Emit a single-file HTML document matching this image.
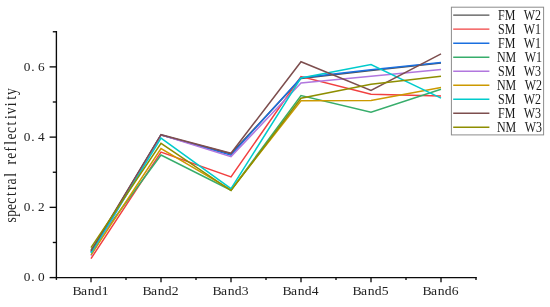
<!DOCTYPE html>
<html lang="en"><head><meta charset="utf-8"><title>spectral reflectivity</title>
<style>html,body{margin:0;padding:0;background:#fff;}body{width:550px;height:307px;overflow:hidden;}svg{display:block;}</style></head><body>
<svg width="550" height="307" viewBox="0 0 550 307">
<rect width="550" height="307" fill="#fff"/>
<g fill="none" stroke-width="1.5" stroke-linejoin="miter" stroke-linecap="butt">
<polyline stroke="#515151" points="91.0,251.6 161.0,135.0 231.0,153.8 301.0,78.4 371.0,70.5 441.0,63.1"/>
<polyline stroke="#F14040" points="91.0,258.6 161.0,152.1 231.0,176.9 301.0,76.5 371.0,94.2 441.0,96.1"/>
<polyline stroke="#1A6FDF" points="91.0,252.4 161.0,134.9 231.0,155.1 301.0,77.8 371.0,69.8 441.0,62.4"/>
<polyline stroke="#37AD6B" points="91.0,250.0 161.0,155.0 231.0,190.2 301.0,95.6 371.0,112.2 441.0,89.3"/>
<polyline stroke="#B177DE" points="91.0,255.6 161.0,134.8 231.0,156.6 301.0,83.0 371.0,76.2 441.0,69.4"/>
<polyline stroke="#CC9900" points="91.0,254.9 161.0,148.5 231.0,189.8 301.0,100.7 371.0,100.5 441.0,87.6"/>
<polyline stroke="#00CBCC" points="91.0,253.0 161.0,138.2 231.0,188.6 301.0,77.9 371.0,64.5 441.0,98.1"/>
<polyline stroke="#7D4E4E" points="91.0,250.8 161.0,134.7 231.0,153.3 301.0,61.7 371.0,90.4 441.0,53.8"/>
<polyline stroke="#8E8E00" points="91.0,247.6 161.0,143.3 231.0,190.6 301.0,98.3 371.0,84.3 441.0,76.3"/>
</g>
<g stroke="#0a0a0a" stroke-width="1.35" fill="none" stroke-linecap="butt">
<path d="M56.4 31.0 V277.6 H476.8"/>
<path d="M56.4 277.60 H49.6"/>
<path d="M56.4 242.48 H52.8"/>
<path d="M56.4 207.36 H49.6"/>
<path d="M56.4 172.24 H52.8"/>
<path d="M56.4 137.12 H49.6"/>
<path d="M56.4 102.00 H52.8"/>
<path d="M56.4 66.88 H49.6"/>
<path d="M56.4 31.76 H52.8"/>
<path d="M56.4 277.60 V279.9"/>
<path d="M91.0 277.60 V282.2"/>
<path d="M126.0 277.60 V279.9"/>
<path d="M161.0 277.60 V282.2"/>
<path d="M196.0 277.60 V279.9"/>
<path d="M231.0 277.60 V282.2"/>
<path d="M266.0 277.60 V279.9"/>
<path d="M301.0 277.60 V282.2"/>
<path d="M336.0 277.60 V279.9"/>
<path d="M371.0 277.60 V282.2"/>
<path d="M406.0 277.60 V279.9"/>
<path d="M441.0 277.60 V282.2"/>
<path d="M476.0 277.60 V279.9"/>
</g>
<text transform="translate(34.20 281.40) scale(1.120 1.000)" x="-6.43 -1.25 6.43" y="0" text-anchor="middle" font-size="11.90" fill="#222" font-family="Liberation Serif, serif" xml:space="preserve">0.0</text>
<text transform="translate(34.20 211.16) scale(1.120 1.000)" x="-6.43 -1.25 6.43" y="0" text-anchor="middle" font-size="11.90" fill="#222" font-family="Liberation Serif, serif" xml:space="preserve">0.2</text>
<text transform="translate(34.20 140.92) scale(1.120 1.000)" x="-6.43 -1.25 6.43" y="0" text-anchor="middle" font-size="11.90" fill="#222" font-family="Liberation Serif, serif" xml:space="preserve">0.4</text>
<text transform="translate(34.20 70.68) scale(1.120 1.000)" x="-6.43 -1.25 6.43" y="0" text-anchor="middle" font-size="11.90" fill="#222" font-family="Liberation Serif, serif" xml:space="preserve">0.6</text>
<text transform="translate(91.10 294.90) scale(1.120 1.000)" x="-12.59 -6.29 0.00 6.29 12.59" y="0" text-anchor="middle" font-size="12.20" fill="#222" font-family="Liberation Serif, serif" xml:space="preserve">Band1</text>
<text transform="translate(161.10 294.90) scale(1.120 1.000)" x="-12.59 -6.29 0.00 6.29 12.59" y="0" text-anchor="middle" font-size="12.20" fill="#222" font-family="Liberation Serif, serif" xml:space="preserve">Band2</text>
<text transform="translate(231.10 294.90) scale(1.120 1.000)" x="-12.59 -6.29 0.00 6.29 12.59" y="0" text-anchor="middle" font-size="12.20" fill="#222" font-family="Liberation Serif, serif" xml:space="preserve">Band3</text>
<text transform="translate(301.10 294.90) scale(1.120 1.000)" x="-12.59 -6.29 0.00 6.29 12.59" y="0" text-anchor="middle" font-size="12.20" fill="#222" font-family="Liberation Serif, serif" xml:space="preserve">Band4</text>
<text transform="translate(371.10 294.90) scale(1.120 1.000)" x="-12.59 -6.29 0.00 6.29 12.59" y="0" text-anchor="middle" font-size="12.20" fill="#222" font-family="Liberation Serif, serif" xml:space="preserve">Band5</text>
<text transform="translate(441.10 294.90) scale(1.120 1.000)" x="-12.59 -6.29 0.00 6.29 12.59" y="0" text-anchor="middle" font-size="12.20" fill="#222" font-family="Liberation Serif, serif" xml:space="preserve">Band6</text>
<text transform="translate(16.30 155.70) rotate(-90) scale(1.000 1.220)" x="-64.20 -57.78 -51.36 -44.94 -38.52 -32.10 -25.68 -19.26 -12.84 -6.42 0.00 6.42 12.84 19.26 25.68 32.10 38.52 44.94 51.36 57.78 64.20" y="0" text-anchor="middle" font-size="13.60" fill="#222" font-family="Liberation Serif, serif" xml:space="preserve">spectral reflectivity</text>
<rect x="451.4" y="7.2" width="92.2" height="127.7" fill="#fff" stroke="#8c8c8c" stroke-width="1"/>
<path d="M453.2 15.1 H489.4" stroke="#515151" stroke-width="1.45" fill="none"/>
<text transform="translate(519.50 19.70) scale(0.880 1)" x="0" y="0" text-anchor="middle" font-size="13.60" word-spacing="6.50" fill="#1a1a1a" font-family="Liberation Serif, serif">FM W2</text>
<path d="M453.2 29.1 H489.4" stroke="#F14040" stroke-width="1.45" fill="none"/>
<text transform="translate(519.50 33.73) scale(0.880 1)" x="0" y="0" text-anchor="middle" font-size="13.60" word-spacing="6.50" fill="#1a1a1a" font-family="Liberation Serif, serif">SM W1</text>
<path d="M453.2 43.2 H489.4" stroke="#1A6FDF" stroke-width="1.45" fill="none"/>
<text transform="translate(519.50 47.76) scale(0.880 1)" x="0" y="0" text-anchor="middle" font-size="13.60" word-spacing="6.50" fill="#1a1a1a" font-family="Liberation Serif, serif">FM W1</text>
<path d="M453.2 57.2 H489.4" stroke="#37AD6B" stroke-width="1.45" fill="none"/>
<text transform="translate(519.50 61.79) scale(0.880 1)" x="0" y="0" text-anchor="middle" font-size="13.60" word-spacing="6.50" fill="#1a1a1a" font-family="Liberation Serif, serif">NM W1</text>
<path d="M453.2 71.2 H489.4" stroke="#B177DE" stroke-width="1.45" fill="none"/>
<text transform="translate(519.50 75.82) scale(0.880 1)" x="0" y="0" text-anchor="middle" font-size="13.60" word-spacing="6.50" fill="#1a1a1a" font-family="Liberation Serif, serif">SM W3</text>
<path d="M453.2 85.2 H489.4" stroke="#CC9900" stroke-width="1.45" fill="none"/>
<text transform="translate(519.50 89.85) scale(0.880 1)" x="0" y="0" text-anchor="middle" font-size="13.60" word-spacing="6.50" fill="#1a1a1a" font-family="Liberation Serif, serif">NM W2</text>
<path d="M453.2 99.3 H489.4" stroke="#00CBCC" stroke-width="1.45" fill="none"/>
<text transform="translate(519.50 103.88) scale(0.880 1)" x="0" y="0" text-anchor="middle" font-size="13.60" word-spacing="6.50" fill="#1a1a1a" font-family="Liberation Serif, serif">SM W2</text>
<path d="M453.2 113.3 H489.4" stroke="#7D4E4E" stroke-width="1.45" fill="none"/>
<text transform="translate(519.50 117.91) scale(0.880 1)" x="0" y="0" text-anchor="middle" font-size="13.60" word-spacing="6.50" fill="#1a1a1a" font-family="Liberation Serif, serif">FM W3</text>
<path d="M453.2 127.3 H489.4" stroke="#8E8E00" stroke-width="1.45" fill="none"/>
<text transform="translate(519.50 131.94) scale(0.880 1)" x="0" y="0" text-anchor="middle" font-size="13.60" word-spacing="6.50" fill="#1a1a1a" font-family="Liberation Serif, serif">NM W3</text>
</svg></body></html>
